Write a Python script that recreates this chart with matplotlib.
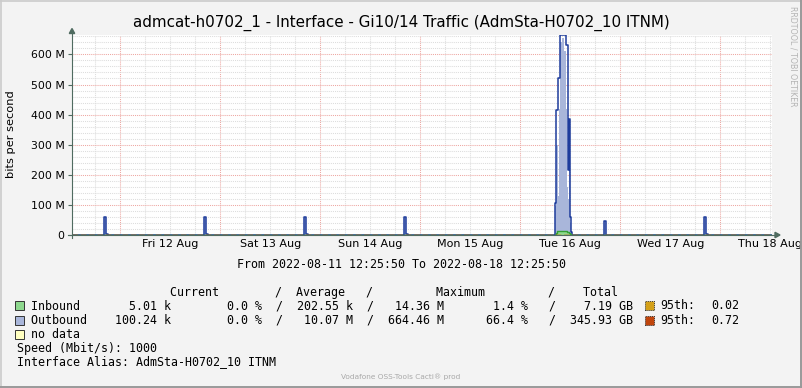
import matplotlib
matplotlib.use("Agg")
import matplotlib.pyplot as plt
import pandas as pd
from matplotlib.patches import Rectangle, Polygon
from matplotlib.lines import Line2D

# ---- data (Mbit/s) ----
start = pd.Timestamp("2022-08-11 12:25:50")
end = pd.Timestamp("2022-08-18 12:25:50")

out_times = ["2022-08-11 12:25", "2022-08-11 20:00", "2022-08-11 20:40", "2022-08-11 21:10",
             "2022-08-12 20:00", "2022-08-12 20:40", "2022-08-12 21:10",
             "2022-08-13 20:00", "2022-08-13 20:40", "2022-08-13 21:10",
             "2022-08-14 20:00", "2022-08-14 20:40", "2022-08-14 21:10",
             "2022-08-16 08:20", "2022-08-16 08:40", "2022-08-16 09:00", "2022-08-16 09:30",
             "2022-08-16 10:55", "2022-08-16 11:30", "2022-08-16 11:40", "2022-08-16 11:55",
             "2022-08-16 12:10", "2022-08-16 12:25",
             "2022-08-16 20:00", "2022-08-16 20:40", "2022-08-16 21:10",
             "2022-08-17 20:00", "2022-08-17 20:40", "2022-08-17 21:10",
             "2022-08-18 12:25"]
out_max = [0, 59, 2.5, 0,
           60, 2.5, 0,
           59, 2.5, 0,
           59, 2.5, 0,
           105, 415, 520, 664.46,
           630, 215, 385, 60,
           10, 0,
           47, 1.5, 0,
           59, 2.5, 0,
           0]

avg_times = ["2022-08-11 12:25", "2022-08-11 20:00", "2022-08-11 20:40", "2022-08-11 21:10",
             "2022-08-12 20:00", "2022-08-12 20:40", "2022-08-12 21:10",
             "2022-08-13 20:00", "2022-08-13 20:40", "2022-08-13 21:10",
             "2022-08-14 20:00", "2022-08-14 20:40", "2022-08-14 21:10",
             "2022-08-16 08:20", "2022-08-16 08:40", "2022-08-16 09:00", "2022-08-16 09:15",
             "2022-08-16 09:30", "2022-08-16 10:00", "2022-08-16 10:30", "2022-08-16 10:55",
             "2022-08-16 11:15", "2022-08-16 11:30", "2022-08-16 11:40", "2022-08-16 11:55",
             "2022-08-16 12:10", "2022-08-16 12:25",
             "2022-08-16 20:00", "2022-08-16 20:40", "2022-08-16 21:10",
             "2022-08-17 20:00", "2022-08-17 20:40", "2022-08-17 21:10",
             "2022-08-18 12:25"]
out_avg = [0, 57, 2.5, 0,
           58, 2.5, 0,
           57, 2.5, 0,
           57, 2.5, 0,
           95, 300, 130, 420,
           640, 655, 610, 420,
           160, 120, 330, 40,
           5, 0,
           45, 1.5, 0,
           57, 2.5, 0,
           0]

in_times = ["2022-08-11 12:25", "2022-08-16 08:35", "2022-08-16 08:50", "2022-08-16 09:30",
            "2022-08-16 10:30", "2022-08-16 11:15", "2022-08-16 11:40", "2022-08-16 12:00",
            "2022-08-16 12:10", "2022-08-18 12:25"]
in_vals = [0, 6, 12, 14.36, 13, 10, 7, 3, 0, 0]

p95_in = 0.02
p95_out = 0.72

day_labels = ["Fri 12 Aug", "Sat 13 Aug", "Sun 14 Aug", "Mon 15 Aug",
              "Tue 16 Aug", "Wed 17 Aug", "Thu 18 Aug"]
y_ticks = [0, 100, 200, 300, 400, 500, 600]

names = ["Inbound", "Outbound"]
current = ["5.01 k", "100.24 k"]
cur_pct = ["0.0 %", "0.0 %"]
average = ["202.55 k", "10.07 M"]
maximum = ["14.36 M", "664.46 M"]
max_pct = ["1.4 %", "66.4 %"]
total = ["7.19 GB", "345.93 GB"]
p95_text = ["0.02", "0.72"]

# ---- colours ----
BG = "#F3F3F3"
AXC = "#4F6B60"
IN_LINE, IN_FILL = "#33A033", "#8ED88E"
OUT_LINE, OUT_FILL = "#1E3C9C", "#A9B6DA"
P95_IN, P95_OUT = "#D4A017", "#C0450C"

W, H = 803, 388
fig = plt.figure(figsize=(W / 100, H / 100), dpi=100, facecolor=BG)


def fx(px):
    return px / W


def fy(py):
    return 1 - py / H


ax = fig.add_axes([fx(72), fy(235), 700 / W, 200 / H])
ax.set_facecolor("white")
for s in ax.spines.values():
    s.set_visible(False)

t_out = pd.to_datetime(out_times)
t_avg = pd.to_datetime(avg_times)
t_in = pd.to_datetime(in_times)

# grid (every 6 h / 20 M, major at midnight / 100 M)
for h in pd.date_range("2022-08-11 18:00", "2022-08-18 12:00", freq="6h"):
    major = h.hour == 0
    ax.axvline(h, color="#EEA7A2" if major else "#DDDDDD", lw=0.75,
               ls=(0, (1, 1)), zorder=0)
for v in range(20, 661, 20):
    ax.axhline(v, color="#EEA7A2" if v % 100 == 0 else "#DDDDDD", lw=0.75,
               ls=(0, (1, 1)), zorder=0)

ax.fill_between(t_avg, out_avg, step="post", color=OUT_FILL, lw=0, zorder=2)
ax.step(t_out, out_max, where="post", color=OUT_LINE, lw=1.1, zorder=3)
ax.fill_between(t_in, in_vals, step="post", color=IN_FILL, lw=0, zorder=4)
ax.step(t_in, in_vals, where="post", color=IN_LINE, lw=1.0, zorder=5)
ax.axhline(p95_in, color=P95_IN, lw=1.0, ls=(0, (4, 2)), zorder=6)
ax.axhline(p95_out, color=P95_OUT, lw=1.0, ls=(0, (4, 2)), zorder=6)

ax.set_xlim(start, end)
ax.set_ylim(0, 664.46)

noon = pd.date_range("2022-08-12 12:00", periods=len(day_labels), freq="D")
ax.set_xticks(noon)
ax.set_xticklabels(day_labels)
ax.tick_params(axis="x", length=0, pad=3, labelsize=8.0)
ax.set_yticks(y_ticks)
ax.set_yticklabels(["0" if v == 0 else f"{v} M" for v in y_ticks])
ax.tick_params(axis="y", length=3, width=0.8, color=AXC, pad=2.4, labelsize=7.8)

# axes with arrows (pixel coords)
px = lambda x, y: (x, H - y)
fig.add_artist(Line2D([72, 72], [H - 238, H - 32], color=AXC, lw=0.8, transform=None))
fig.add_artist(Line2D([68, 776], [H - 235, H - 235], color=AXC, lw=0.8, transform=None))
fig.add_artist(Polygon([px(72, 28.5), px(69.3, 33.5), px(74.7, 33.5)], closed=True,
                       color=AXC, transform=None))
fig.add_artist(Polygon([px(780, 235), px(775, 232.3), px(775, 237.7)], closed=True,
                       color=AXC, transform=None))

# titles
fig.text(fx(401), fy(23), "admcat-h0702_1 - Interface - Gi10/14 Traffic (AdmSta-H0702_10 ITNM)",
         ha="center", va="center", fontsize=10.9)
fig.text(fx(11), fy(134), "bits per second", rotation=90, ha="center", va="center", fontsize=8.2)
fig.text(fx(401.5), fy(264), "From 2022-08-11 12:25:50 To 2022-08-18 12:25:50",
         family="DejaVu Sans Mono", ha="center", va="center", fontsize=8.4)
fig.text(fx(793), fy(56), "RRDTOOL / TOBI OETIKER", rotation=270, ha="center", va="center",
         fontsize=5.7, color="#B4B4B4")
fig.text(fx(401), fy(377), "Vodafone OSS-Tools Cacti® prod", ha="center", va="center",
         fontsize=5.3, color="#A8A8A8")

# legend (monospace columns)
CW = 6.95
X0 = 16.7
mono = dict(family="DejaVu Sans Mono", fontsize=8.4, va="center", ha="left")


def row(fields):
    buf = [" "] * 90
    for text, end_col in fields:
        buf[end_col - len(text) + 1:end_col + 1] = list(text)
    return "".join(buf).rstrip()


header = row([("Current", 28), ("/", 37), ("Average", 46), ("/", 50),
              ("Maximum", 66), ("/", 76), ("Total", 85)])
fig.text(fx(X0 + 22 * CW), fy(292.3), header.lstrip(), **mono)

row_y = [305.7, 320.0]
box_fill = [IN_FILL, OUT_FILL]
p95_col = [P95_IN, P95_OUT]
for i in range(2):
    y = row_y[i]
    line = row([(names[i], 2 + len(names[i]) - 1), (current[i], 21), (cur_pct[i], 34),
                ("/", 37), (average[i], 47), ("/", 50), (maximum[i], 60),
                (max_pct[i], 72), ("/", 76), (total[i], 87)])
    fig.text(fx(X0 + 2 * CW), fy(y), line.lstrip(), **mono)
    fig.add_artist(Rectangle((15, H - y - 4.5), 9, 9, facecolor=box_fill[i],
                             edgecolor="#333333", lw=0.7, transform=None))
    fig.add_artist(Rectangle((645, H - y - 4.5), 9, 9, facecolor=p95_col[i],
                             edgecolor="#333333", lw=0.7, ls=(0, (1, 1)), transform=None))
    fig.text(fx(660), fy(y), "95th:", **mono)
    fig.text(fx(711), fy(y), p95_text[i], **mono)

fig.add_artist(Rectangle((15, H - 334 - 4.5), 9, 9, facecolor="#FFFFC0",
                         edgecolor="#333333", lw=0.7, transform=None))
fig.text(fx(X0 + 2 * CW), fy(334), "no data", **mono)
fig.text(fx(X0), fy(348.3), "Speed (Mbit/s): 1000", **mono)
fig.text(fx(X0), fy(361.7), "Interface Alias: AdmSta-H0702_10 ITNM", **mono)

# image frame
fig.add_artist(Line2D([0.5, 0.5], [0, H], color="#CBCBCB", lw=1.2, transform=None))
fig.add_artist(Line2D([0, W], [H - 0.5, H - 0.5], color="#CBCBCB", lw=1.2, transform=None))
fig.add_artist(Line2D([801, 801], [0, H], color="#999999", lw=1.4, transform=None))
fig.add_artist(Line2D([0, W], [1.5, 1.5], color="#999999", lw=1.4, transform=None))

fig.savefig("out.png", dpi=100, facecolor=BG)
